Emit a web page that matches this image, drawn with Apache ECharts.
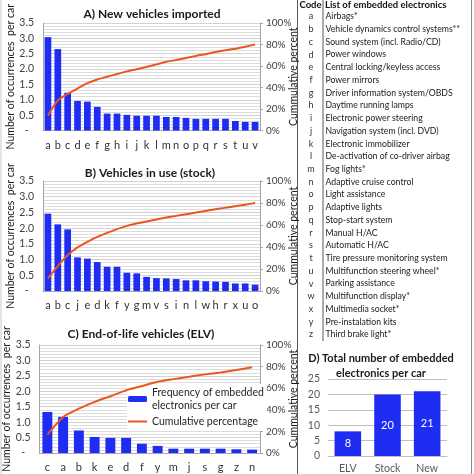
<!DOCTYPE html>
<html>
<head>
<meta charset="utf-8">
<script src="https://cdn.jsdelivr.net/npm/echarts@6/dist/echarts.min.js"></script>
<style>html,body{margin:0;padding:0;background:#fff}#c{width:474px;height:474px}</style>
</head>
<body>
<div id="c"></div>
<script>
// ---- Data ----
const catA = ['a','b','c','d','e','f','g','h','i','j','k','l','m','n','o','p','q','r','s','t','u','v'];
const barsA = [3.04,2.65,1.23,0.96,0.94,0.77,0.55,0.55,0.51,0.48,0.48,0.48,0.44,0.44,0.41,0.38,0.38,0.38,0.38,0.31,0.28,0.28];
const cumA = [14,28,34,39,44,47.5,50,52.5,55,57,59,61.5,64,65.6,67.5,69.4,71,73,74.7,76,78,80];

const catB = ['a','b','c','j','e','d','k','f','y','g','m','v','s','i','n','l','w','h','r','x','u','o'];
const barsB = [2.46,2.12,1.96,1.07,1.03,0.92,0.77,0.77,0.58,0.56,0.45,0.41,0.40,0.38,0.34,0.34,0.31,0.30,0.29,0.24,0.24,0.20];
const cumB = [11.5,22.7,32.6,39.6,44.7,49.2,52.9,56.2,59.2,61.3,63.1,65,66.8,68.3,69.8,71.3,72.8,74.3,75.8,77,78.5,80];

const catC = ['c','a','b','k','e','d','f','y','m','j','s','g','z','n'];
const barsC = [1.33,1.17,0.73,0.52,0.49,0.49,0.30,0.23,0.14,0.14,0.14,0.14,0.12,0.11];
const cumC = [17,33.4,41,47.4,52.6,58,62,66,68.4,70.6,72.8,74.6,76.8,79.3];

const catD = ['ELV','Stock','New'];
const totalsD = [8,20,21];

const codes = ['a','b','c','d','e','f','g','h','i','j','k','l','m','n','o','p','q','r','s','t','u','v','w','x','y','z'];
const names = ['Airbags*','Vehicle dynamics control systems**','Sound system (incl. Radio/CD)','Power windows',
 'Central locking/keyless access','Power mirrors','Driver information system/OBDS','Daytime running lamps',
 'Electronic power steering','Navigation system (incl. DVD)','Electronic immobilizer','De-activation of co-driver airbag',
 'Fog lights*','Adaptive cruise control','Light assistance','Adaptive lights','Stop-start system','Manual H/AC',
 'Automatic H/AC','Tire pressure monitoring system','Multifunction steering wheel*','Parking assistance',
 'Multifunction display*','Multimedia socket*','Pre-instalation kits','Third brake light*'];

const titles = ['A) New vehicles imported','B) Vehicles in use (stock)','C) End-of-life vehicles (ELV)'];
const leftName = 'Number of occurrences  per car';
const rightName = 'Cummulative percent';
const barName = 'Frequency of embedded\nelectronics per car';
const lineName = 'Cumulative percentage';

// ---- Style ----
const FONT = 'Lato';
const BLUE = '#1f2cf2';
const ORANGE = '#e8581e';

const grids = [
  {left:43, width:217, top:23, height:107.5},
  {left:43, width:217, top:181, height:110},
  {left:39.5, width:220.5, top:345, height:108},
  {left:328, width:119, top:379, height:78}
];

function leftAxis(g){
  return {type:'value', gridIndex:g, min:0, max:3.5, interval:0.5,
    axisLine:{show:true, lineStyle:{color:'#a6a6a6'}}, axisTick:{show:false},
    axisLabel:{fontFamily:FONT, fontSize:10.5, color:'#404040', margin:9,
      formatter:v => v===0 ? '-  ' : v.toFixed(1)},
    splitLine:{show:true, lineStyle:{color:'#d2d2d2', width:1}},
    minorTick:{show:false, splitNumber:5},
    minorSplitLine:{show:true, lineStyle:{color:'#dcdcdc', width:1}},
    name:leftName, nameLocation:'middle', nameRotate:90, nameGap:27, nameMoveOverlap:false,
    nameTextStyle:{fontFamily:FONT, fontSize:10.5, color:'#1a1a1a'}};
}
function rightAxis(g){
  return {type:'value', gridIndex:g, position:'right', min:0, max:100, interval:20,
    axisLine:{show:true, lineStyle:{color:'#a6a6a6'}},
    axisTick:{show:true, length:3, lineStyle:{color:'#a6a6a6'}},
    axisLabel:{fontFamily:FONT, fontSize:10, color:'#404040', margin:6, formatter:'{value}%'},
    splitLine:{show:false},
    name:rightName, nameLocation:'middle', nameRotate:90, nameGap:28.5, nameMoveOverlap:false,
    nameTextStyle:{fontFamily:FONT, fontSize:10.5, color:'#1a1a1a'}};
}
function catAxis(g, data){
  return {type:'category', gridIndex:g, data:data,
    axisLine:{show:true, lineStyle:{color:'#a6a6a6'}}, axisTick:{show:false},
    axisLabel:{fontFamily:FONT, fontSize:11, color:'#333', margin:9, interval:0}};
}

const series = [];
const sets = [[barsA,cumA],[barsB,cumB],[barsC,cumC]];
sets.forEach((s,i)=>{
  series.push({type:'bar', name: i===2 ? barName : 'bars'+i, xAxisIndex:i, yAxisIndex:2*i,
    data:s[0], barCategoryGap: i===2 ? '37%' : '32%', itemStyle:{color:BLUE}});
  series.push({type:'line', name: i===2 ? lineName : 'line'+i, xAxisIndex:i, yAxisIndex:2*i+1,
    data:s[1], symbol:'none', smooth:0.2, lineStyle:{color:ORANGE, width:2}, itemStyle:{color:ORANGE}, z:5});
});
series.push({type:'bar', name:'total', xAxisIndex:3, yAxisIndex:6, data:totalsD, barCategoryGap:'33%',
  itemStyle:{color:BLUE},
  label:{show:true, position:'inside', color:'#fff', fontFamily:FONT, fontSize:11}});

// table graphics
const graphic = [
  {type:'line', shape:{x1:1,y1:0,x2:1,y2:474}, style:{stroke:'#c8c8c8', lineWidth:1}},
  {type:'line', shape:{x1:297.5,y1:0,x2:297.5,y2:474}, style:{stroke:'#5a5a5a', lineWidth:1}},
  {type:'line', shape:{x1:471.5,y1:0,x2:471.5,y2:474}, style:{stroke:'#8a8a8a', lineWidth:1}},
  {type:'line', shape:{x1:323,y1:0,x2:323,y2:341}, style:{stroke:'#5a5a5a', lineWidth:1}},
  {type:'text', x:310.5, y:5, style:{text:'Code', fontFamily:FONT, fontSize:9.5, fontWeight:'bold', fill:'#111', textAlign:'center', textVerticalAlign:'middle'}},
  {type:'text', x:325, y:5, style:{text:'List of embedded electronics', fontFamily:FONT, fontSize:9.5, fontWeight:'bold', fill:'#111', textAlign:'left', textVerticalAlign:'middle'}}
];
codes.forEach((c,i)=>{
  const y = 16.5 + i*12.72;
  graphic.push({type:'text', x:311, y:y, style:{text:c, fontFamily:FONT, fontSize:9, fill:'#333', textAlign:'center', textVerticalAlign:'middle'}});
  graphic.push({type:'text', x:325.5, y:y, style:{text:names[i], fontFamily:FONT, fontSize:8.7, fill:'#1a1a1a', textAlign:'left', textVerticalAlign:'middle'}});
});

const option = {
  animation:false,
  textStyle:{fontFamily:FONT},
  title:[
    {text:titles[0], left:152, top:8, textAlign:'center', padding:0, textStyle:{fontFamily:FONT, fontSize:12, fontWeight:'bold', color:'#1a1a1a'}},
    {text:titles[1], left:150, top:167, textAlign:'center', padding:0, textStyle:{fontFamily:FONT, fontSize:12, fontWeight:'bold', color:'#1a1a1a'}},
    {text:titles[2], left:141, top:328, textAlign:'center', padding:0, textStyle:{fontFamily:FONT, fontSize:12, fontWeight:'bold', color:'#1a1a1a'}},
    {text:'D) Total number of embedded\nelectronics per car', left:381, top:351, textAlign:'center', padding:0,
      textStyle:{fontFamily:FONT, fontSize:11, fontWeight:'bold', color:'#1a1a1a', lineHeight:15}}
  ],
  legend:{data:[barName, {name:lineName, icon:'path://M0,0 L19,0 L19,2 L0,2 Z'}], orient:'vertical', left:127, top:384,
    itemWidth:19, itemHeight:6, itemGap:3, padding:[2,3,3,1], backgroundColor:'#fff',
    textStyle:{fontFamily:FONT, fontSize:10.5, color:'#262626', lineHeight:13}},
  grid: grids,
  xAxis:[catAxis(0,catA), catAxis(1,catB), catAxis(2,catC),
    {type:'category', gridIndex:3, data:catD, axisLine:{show:true, lineStyle:{color:'#bfbfbf'}}, axisTick:{show:false},
     axisLabel:{fontFamily:FONT, fontSize:10.5, color:'#595959', margin:7}}],
  yAxis:[leftAxis(0), rightAxis(0), leftAxis(1), rightAxis(1), leftAxis(2), rightAxis(2),
    {type:'value', gridIndex:3, min:0, max:25, interval:5, axisLine:{show:false}, axisTick:{show:false},
     axisLabel:{fontFamily:FONT, fontSize:10.5, color:'#595959', margin:8},
     splitLine:{lineStyle:{color:'#bfbfbf'}}}],
  series: series,
  graphic: graphic
};
const chart = echarts.init(document.getElementById('c'), null, {renderer:'canvas'});
chart.setOption(option);
</script>
</body>
</html>
